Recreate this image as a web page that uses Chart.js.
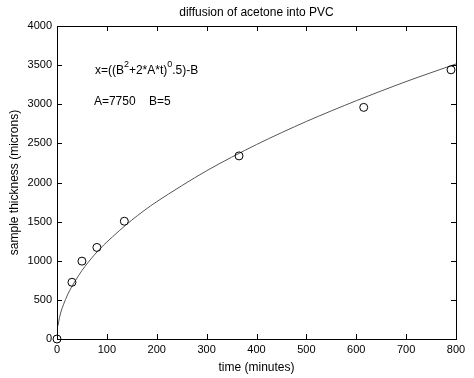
<!DOCTYPE html>
<html>
<head>
<meta charset="utf-8">
<script src="https://cdn.jsdelivr.net/npm/chart.js@4"></script>
<style>body{margin:0;background:#fff;}</style>
</head>
<body>
<canvas id="fitchart" width="474" height="378"></canvas>
<script>
// measured points (circles)
var timeMin = [0, 30, 50, 80, 135, 365, 615, 790];
var thickness = [0, 725, 995, 1170, 1505, 2340, 2960, 3440];

// fitted curve
var fitTime = [2, 5, 10, 25, 50, 75, 100, 150, 200, 300, 400, 500, 600, 700, 800];
var fitThickness = [170, 275, 390, 615, 875, 1075, 1240, 1520, 1755, 2150, 2485, 2780, 3045, 3290, 3515];

var xTicks = [0, 100, 200, 300, 400, 500, 600, 700, 800];
var yTicks = [0, 500, 1000, 1500, 2000, 2500, 3000, 3500, 4000];

var chartTitle = "diffusion of acetone into PVC";
var formulaParts = [["x=((B", false], ["2", true], ["+2*A*t)", false], ["0", true], [".5)-B", false]];
var paramText = "A=7750    B=5";

var FONT = "Liberation Sans, Arial, sans-serif";

var pts = timeMin.map(function (t, i) { return {x: t, y: thickness[i]}; });
var fit = fitTime.map(function (t, i) { return {x: t, y: fitThickness[i]}; });

// matlab style box with inward ticks, title and the text notes
var boxPlugin = {
    id: "box",
    afterDraw: function (chart) {
        var c = chart.ctx, a = chart.chartArea;
        var xs = chart.scales.x, ys = chart.scales.y;
        c.save();
        c.strokeStyle = "#000";
        c.lineWidth = 1;
        c.strokeRect(Math.round(a.left) + 0.5, Math.round(a.top) + 0.5,
            Math.round(a.right - a.left), Math.round(a.bottom - a.top));
        c.beginPath();
        xTicks.forEach(function (v) {
            var px = Math.round(xs.getPixelForValue(v)) + 0.5;
            c.moveTo(px, a.bottom); c.lineTo(px, a.bottom - 5);
            c.moveTo(px, a.top); c.lineTo(px, a.top + 5);
        });
        yTicks.forEach(function (v) {
            var py = Math.round(ys.getPixelForValue(v)) + 0.5;
            c.moveTo(a.left, py); c.lineTo(a.left + 5, py);
            c.moveTo(a.right, py); c.lineTo(a.right - 5, py);
        });
        c.stroke();

        c.fillStyle = "#000";
        c.font = "12px " + FONT;
        c.textAlign = "center";
        c.textBaseline = "middle";
        c.fillText(chartTitle, (a.left + a.right) / 2, a.top - 13);

        // formula with superscripts
        c.textAlign = "left";
        var x0 = xs.getPixelForValue(76), y0 = ys.getPixelForValue(3430);
        formulaParts.forEach(function (p) {
            c.font = (p[1] ? "9px " : "12px ") + FONT;
            c.fillText(p[0], x0, p[1] ? y0 - 6 : y0);
            x0 += c.measureText(p[0]).width;
        });
        c.font = "12px " + FONT;
        c.fillText(paramText, xs.getPixelForValue(74), ys.getPixelForValue(3030));
        c.restore();
    }
};

function plain(v) { return String(v); }

var ctx = document.getElementById("fitchart").getContext("2d");
new Chart(ctx, {
    type: "scatter",
    data: {
        datasets: [
            {
                data: pts,
                showLine: false,
                pointStyle: "circle",
                pointRadius: 4,
                borderWidth: 1,
                borderColor: "#000",
                backgroundColor: "rgba(0,0,0,0)",
                clip: false
            },
            {
                data: fit,
                showLine: true,
                pointRadius: 0,
                borderWidth: 1,
                borderColor: "#555",
                tension: 0.3
            }
        ]
    },
    options: {
        responsive: false,
        animation: false,
        layout: {padding: {top: 26, right: 18, bottom: 0, left: 0}},
        plugins: {legend: {display: false}, tooltip: {enabled: false}},
        scales: {
            x: {
                type: "linear", min: 0, max: 800,
                afterBuildTicks: function (s) { s.ticks = xTicks.map(function (v) { return {value: v}; }); },
                afterFit: function (s) { s.height = 39; },
                grid: {display: false, drawTicks: false},
                border: {display: false},
                ticks: {color: "#000", font: {family: FONT, size: 11}, padding: 4, maxRotation: 0, callback: plain},
                title: {display: true, text: "time (minutes)", color: "#000", font: {family: FONT, size: 12}, padding: {top: 0, bottom: 3}}
            },
            y: {
                type: "linear", min: 0, max: 4000,
                afterBuildTicks: function (s) { s.ticks = yTicks.map(function (v) { return {value: v}; }); },
                afterFit: function (s) { s.width = 57; },
                grid: {display: false, drawTicks: false},
                border: {display: false},
                ticks: {color: "#000", font: {family: FONT, size: 11}, padding: 5, callback: plain},
                title: {display: true, text: "sample thickness (microns)", color: "#000", font: {family: FONT, size: 12}, padding: {top: 7, bottom: 0}}
            }
        }
    },
    plugins: [boxPlugin]
});
</script>
</body>
</html>
